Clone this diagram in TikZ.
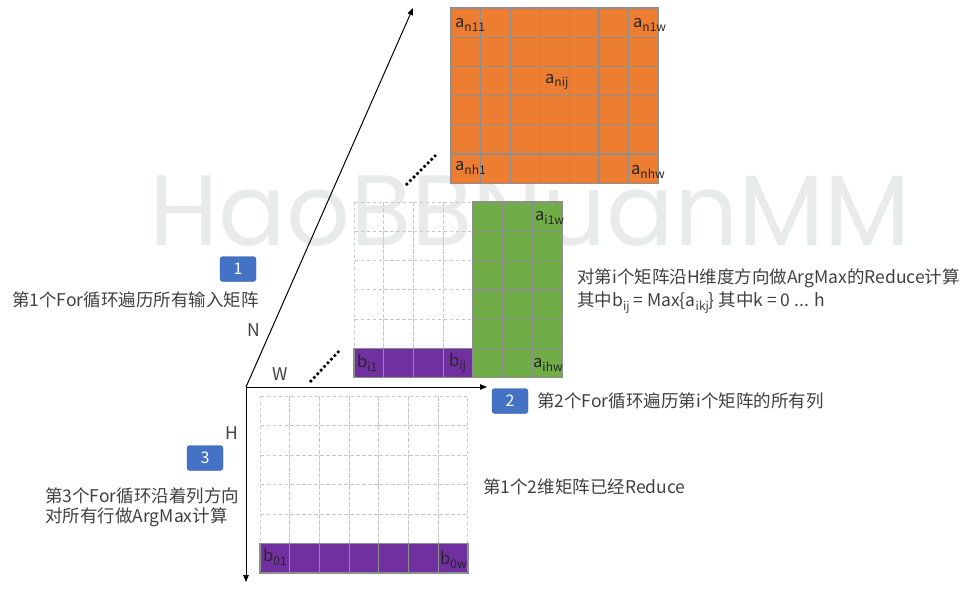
\documentclass[tikz,border=0pt]{standalone}
\usepackage{fontspec}
\setmainfont{Noto Sans CJK SC}
\newfontfamily\wmfont{Poppins}
\usetikzlibrary{arrows.meta}
\definecolor{morange}{HTML}{ED7D31}
\definecolor{mgreen}{HTML}{70AD47}
\definecolor{mpurple}{HTML}{7030A0}
\definecolor{mblue}{HTML}{4472C4}
\definecolor{mtext}{HTML}{404040}
\definecolor{mgrid}{HTML}{8E8E8E}
\definecolor{mdash}{HTML}{C8C8C8}
\definecolor{mwater}{HTML}{E9EBEB}
\newcommand{\cellsub}[2]{#1\raisebox{-0.4ex}{\fontsize{12}{12}\selectfont #2}}
\tikzset{
  badge/.style={fill=mblue,draw=mblue!80!black,rounded corners=3pt,minimum width=36pt,minimum height=25pt,inner sep=0pt,text=white,font=\fontsize{16}{16}\selectfont},
  note/.style={text=mtext,font=\fontsize{17.5}{22}\selectfont,anchor=west,inner sep=0pt},
  celllab/.style={text=black!85,font=\fontsize{16.5}{16}\selectfont,anchor=west,inner sep=0pt},
  fullcell/.style={draw=mgrid,line width=1.2pt},
  emptycell/.style={draw=mdash,dashed,line width=1pt},
  axis/.style={line width=1pt,-{Triangle[length=7pt,width=5.5pt]}}
}
\begin{document}
\begin{tikzpicture}[x=1pt,y=-1pt]
\useasboundingbox (0,0) rectangle (974,590);
\node[text=mwater,font=\wmfont\fontsize{100}{100}\selectfont,anchor=base,inner sep=0pt] (wm) at (530,245) {HaoBBNuanMM};

\foreach \i in {0,...,6} \foreach \j in {0,...,5} \draw[fullcell,fill=morange] ({451+29.6*\i},{8+29.2*\j}) rectangle +(29.6,29.2);

\foreach \i in {0,...,3} \foreach \j in {0,...,4} \draw[emptycell] ({354+29.7*\i},{202+29.3*\j}) rectangle +(29.7,29.3);
\foreach \i in {0,...,3} \draw[fullcell,fill=mpurple] ({354+29.7*\i},348.5) rectangle +(29.7,29.3);
\foreach \i in {4,5,6} \foreach \j in {0,...,5} \draw[fullcell,fill=mgreen] ({354+29.7*\i},{202+29.3*\j}) rectangle +(29.7,29.3);

\foreach \i in {0,...,6} \foreach \j in {0,...,4} \draw[emptycell] ({260+29.7*\i},{396+29.5*\j}) rectangle +(29.7,29.5);
\foreach \i in {0,...,6} \draw[fullcell,fill=mpurple] ({260+29.7*\i},543.5) rectangle +(29.7,29.5);

\coordinate (O) at (246,387);
\coordinate (Nend) at (413,8);
\coordinate (Wend) at (487,387);
\coordinate (Hend) at (246,582);
\draw[axis] (O) -- (Nend);
\draw[axis] (O) -- (Wend);
\draw[axis] (O) -- (Hend);
\draw[line width=2.6pt,dash pattern=on 2.6pt off 2.4pt] (406,185) -- (436,155);
\draw[line width=2.6pt,dash pattern=on 2.6pt off 2.4pt] (310,382) -- (340,350);

\node[note,anchor=center] (N) at (254,330) {N};
\node[note,anchor=center] (W) at (280,374) {W};
\node[note,anchor=center] (H) at (232,433) {H};

\node[celllab] (an11) at (455,25) {\cellsub{a}{n11}};
\node[celllab] (an1w) at (633,25) {\cellsub{a}{n1w}};
\node[celllab] (anij) at (545,82) {\cellsub{a}{nij}};
\node[celllab] (anh1) at (455,168) {\cellsub{a}{nh1}};
\node[celllab] (anhw) at (631,172) {\cellsub{a}{nhw}};
\node[celllab] (ai1w) at (535,218) {\cellsub{a}{i1w}};
\node[celllab] (aihw) at (533,365) {\cellsub{a}{ihw}};
\node[celllab] (bi1) at (357,363) {\cellsub{b}{i1}};
\node[celllab] (bij) at (449,363) {\cellsub{b}{ij}};
\node[celllab] (b01) at (263,557) {\cellsub{b}{01}};
\node[celllab] (b0w) at (440,560) {\cellsub{b}{0w}};

\node[badge] (one) at (238,269) {1};
\node[note] (loop1) at (12,300) {第1个For循环遍历所有输入矩阵};
\node[badge] (two) at (510,401) {2};
\node[note] (loop2) at (537,401) {第2个For循环遍历第i个矩阵的所有列};
\node[badge] (three) at (205,458) {3};
\node[note,align=left,font=\fontsize{17.5}{20}\selectfont] (loop3) at (45,507) {第3个For循环沿着列方向\\对所有行做ArgMax计算};
\node[note,align=left,font=\fontsize{17.5}{23}\selectfont] (reduce) at (577,291) {对第i个矩阵沿H维度方向做ArgMax的Reduce计算\\其中\cellsub{b}{ij} = Max\{\cellsub{a}{ikj}\} 其中k = 0 ... h};
\node[note] (done) at (483,487) {第1个2维矩阵已经Reduce};
\end{tikzpicture}
\end{document}
